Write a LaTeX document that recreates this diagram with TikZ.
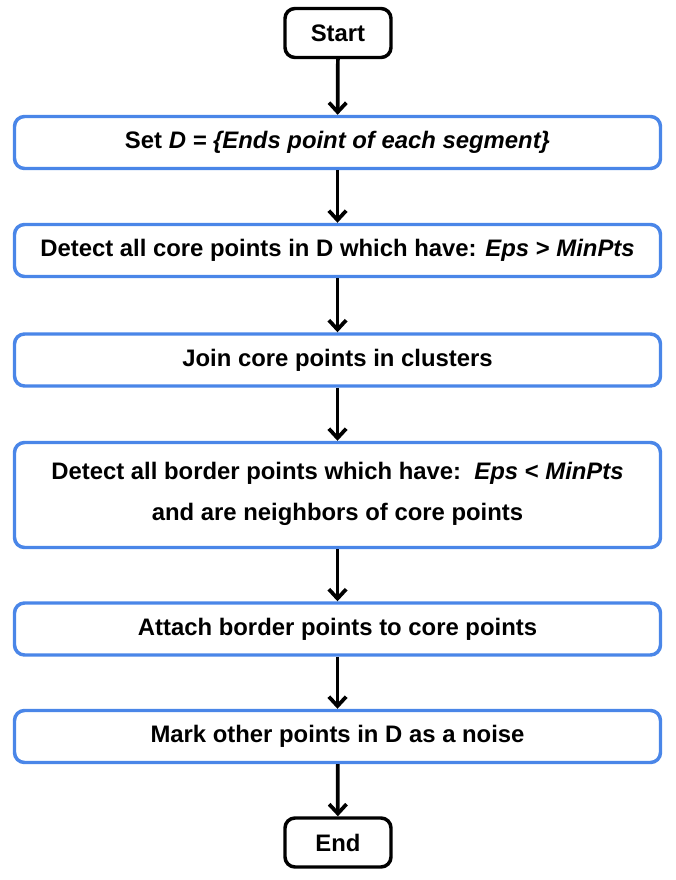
\documentclass[tikz,border=0pt]{standalone}
\usepackage{fontspec}
\setmainfont{Liberation Sans}
\usepackage{tikz}
\usetikzlibrary{arrows.meta}
\definecolor{boxblue}{HTML}{4A86E8}
\tikzset{
	stepnode/.style={draw=boxblue, line width=2.6pt, rounded corners=7.5pt, minimum width=484.5pt, minimum height=39pt, inner sep=0pt, align=center},
	termnode/.style={draw=black, line width=2.6pt, rounded corners=7.5pt, minimum width=79.5pt, minimum height=36.75pt, inner sep=0pt},
	flowarrow/.style={line width=2.8pt, -{Straight Barb[length=7pt, width=13pt, line width=2.8pt]}}
}

\begin{document}
\begin{tikzpicture}[x=0.75pt, y=-0.75pt, font=\bfseries\fontsize{17.9}{31}\selectfont]
		%%%%% START %%%%%
		\useasboundingbox (0, 0) rectangle (675, 880);
		
		\node[termnode] (start) at (338, 33) {Start};
		
		\node[stepnode] (setD) at (337.5, 142.5) {Set \textit{D = \{Ends point of each segment\}}};
		\node[stepnode] (core) at (337.5, 250.5) {Detect all core points in D which have: \textit{Eps} > \textit{MinPts}};
		\node[stepnode] (join) at (337.5, 360) {Join core points in clusters};
		\node[stepnode, minimum height=78.75pt, text depth=5pt] (border) at (337.5, 495) {Detect all border points which have:\ \ \textit{Eps} < \textit{MinPts}\\ and are neighbors of core points};
		\node[stepnode] (attach) at (337.5, 629) {Attach border points to core points};
		\node[stepnode] (noise) at (337.5, 736.5) {Mark other points in D as a noise};
		
		\node[termnode] (end) at (338, 842.5) {End};
		
		\draw[flowarrow] (start) -- (setD);
		\draw[flowarrow] (setD) -- (core);
		\draw[flowarrow] (core) -- (join);
		\draw[flowarrow] (join) -- (border);
		\draw[flowarrow] (border) -- (attach);
		\draw[flowarrow] (attach) -- (noise);
		\draw[flowarrow] (noise) -- (end);
		%%%%% END %%%%%
\end{tikzpicture}
\end{document}
